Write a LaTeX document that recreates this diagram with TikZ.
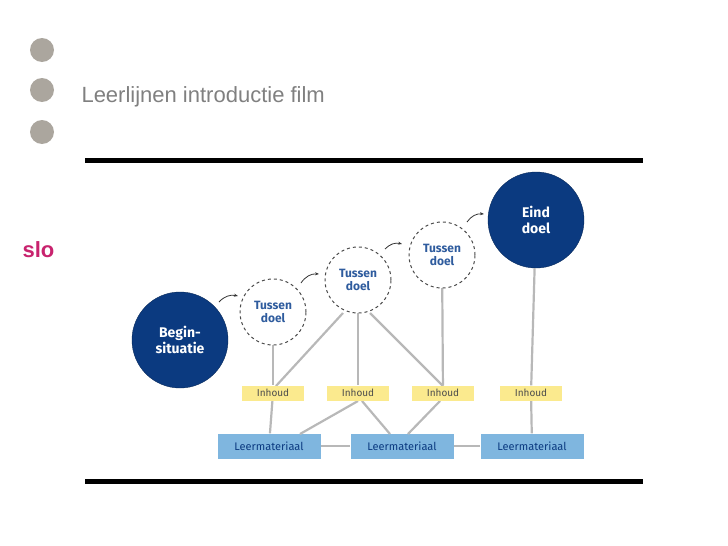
\documentclass[tikz,border=0pt]{standalone}
\usepackage{fontspec}
\setmainfont{Liberation Sans}
\newfontfamily\hand{Fira Sans}
\usetikzlibrary{arrows.meta}
\definecolor{navy}{HTML}{0B3A80}
\definecolor{tblue}{HTML}{2F5C9E}
\definecolor{ygold}{HTML}{FBEA8E}
\definecolor{lblue}{HTML}{7FB6DF}
\definecolor{lgray}{HTML}{B8B8B8}
\definecolor{dotgray}{HTML}{ABA69E}
\definecolor{slopink}{HTML}{C8236E}
\tikzset{
 big/.style={circle,fill=navy,draw=navy!70!black,minimum size=96pt,inner sep=0pt,text=white,font=\hand\bfseries\fontsize{14}{16}\selectfont,align=center},
 mid/.style={circle,draw=black!70,dashed,line width=1pt,minimum size=66pt,inner sep=0pt,text=tblue,font=\hand\bfseries\fontsize{12}{13}\selectfont,align=center,fill=white},
 inh/.style={fill=ygold,minimum width=62pt,minimum height=15pt,inner sep=0pt,font=\hand\fontsize{10}{11}\selectfont,text=black!70},
 leer/.style={fill=lblue,minimum width=103pt,minimum height=25pt,inner sep=0pt,font=\hand\fontsize{11}{12}\selectfont,text=navy},
 con/.style={lgray,line width=2.2pt},
 arr/.style={-{Stealth[length=4pt]},black!80,line width=0.8pt},
 dot/.style={circle,fill=dotgray,minimum size=24pt,inner sep=0pt}
}
\begin{document}
\begin{tikzpicture}[x=1pt,y=-1pt]
\useasboundingbox (0,0) rectangle (728,546);
\node[dot] (d1) at (42,50) {};
\node[dot] (d2) at (42,90) {};
\node[dot] (d3) at (42,132) {};
\node[anchor=west,text=black!50,font=\fontsize{22}{24}\selectfont] (title) at (78,97) {Leerlijnen introductie film};
\node[anchor=west,text=slopink,font=\bfseries\fontsize{22}{24}\selectfont] (slo) at (19,250) {slo};
\coordinate (l1a) at (85,160); \coordinate (l1b) at (643,160);
\coordinate (l2a) at (85,481); \coordinate (l2b) at (643,481);
\draw[line width=5pt] (l1a) -- (l1b);
\draw[line width=5pt] (l2a) -- (l2b);

\node[inh] (i1) at (273,393) {Inhoud};
\node[inh] (i2) at (358,393) {Inhoud};
\node[inh] (i3) at (443,393) {Inhoud};
\node[inh] (i4) at (531,393) {Inhoud};
\node[leer] (m1) at (269,446) {Leermateriaal};
\node[leer] (m2) at (402,446) {Leermateriaal};
\node[leer] (m3) at (532,446) {Leermateriaal};

\coordinate (t2l) at (343,313); \coordinate (t2r) at (370,313);
\coordinate (i1t) at (276,386); \coordinate (i3t) at (443,386);
\coordinate (i2bl) at (358,401); \coordinate (i2br) at (362,401);
\coordinate (i3b) at (440,401);
\coordinate (m1t) at (300,434); \coordinate (m2tl) at (390,434); \coordinate (m2tr) at (408,434);

\node[big] (eind) at (536,220) {Eind\\doel};
\draw[con] (eind) -- (i4);
\draw[con] (i4) -- (m3);
\draw[con] (m1) -- (m2);
\draw[con] (m2) -- (m3);
\draw[con] (273,312) -- (i1);
\draw[con] (i1) -- (m1);
\draw[con] (358,280) -- (i2);
\draw[con] (t2l) -- (i1t);
\draw[con] (t2r) -- (i3t);
\draw[con] (442,255) -- (i3);
\draw[con] (i2bl) -- (m1t);
\draw[con] (i2br) -- (m2tl);
\draw[con] (i3b) -- (m2tr);
\node[inh] at (i1) {Inhoud};
\node[inh] at (i2) {Inhoud};
\node[inh] at (i3) {Inhoud};
\node[inh] at (i4) {Inhoud};

\node[big] (begin) at (180,340) {Begin-\\situatie};
\node[mid] (t1) at (273,312) {Tussen\\doel};
\node[mid] (t2) at (358,280) {Tussen\\doel};
\node[mid] (t3) at (442,255) {Tussen\\doel};

\coordinate (a1s) at (219,302); \coordinate (a1e) at (238,296);
\coordinate (a2s) at (301,283); \coordinate (a2e) at (319,274);
\coordinate (a3s) at (385,249); \coordinate (a3e) at (402,244);
\coordinate (a4s) at (467,222); \coordinate (a4e) at (484,214);
\draw[arr] (a1s) to[bend left=30] (a1e);
\draw[arr] (a2s) to[bend left=30] (a2e);
\draw[arr] (a3s) to[bend left=30] (a3e);
\draw[arr] (a4s) to[bend left=30] (a4e);
\end{tikzpicture}
\end{document}
